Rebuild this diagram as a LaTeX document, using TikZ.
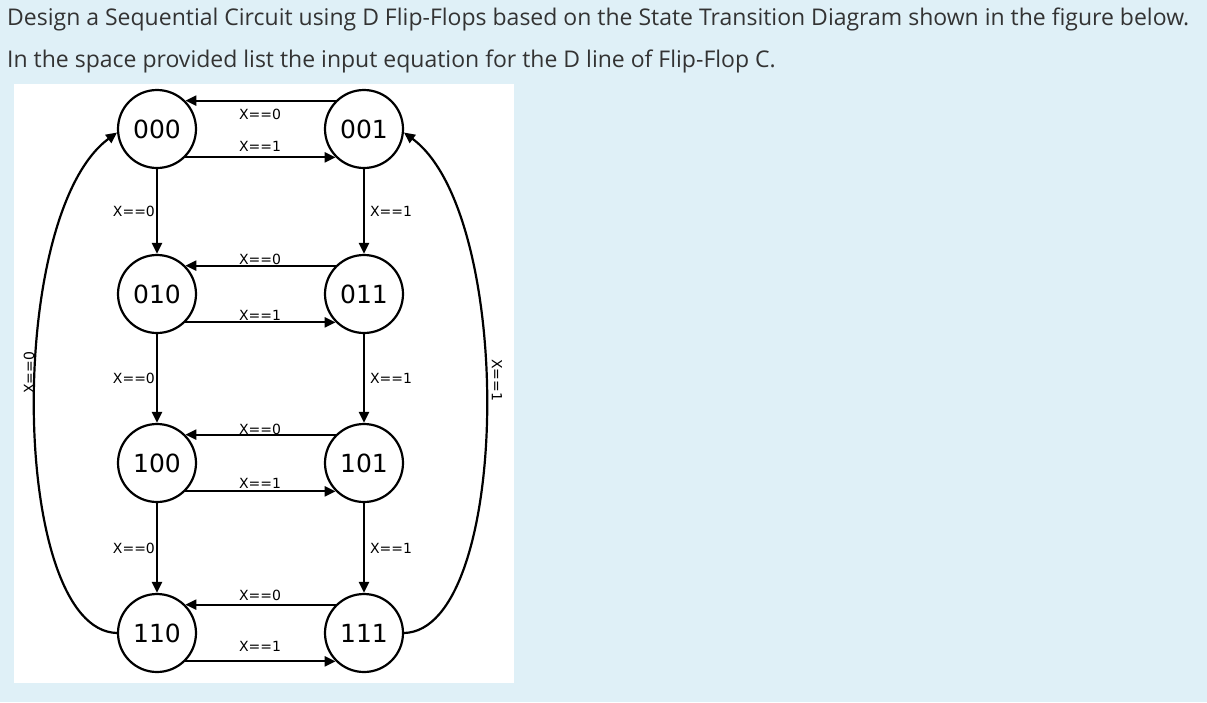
\documentclass[tikz,border=0pt]{standalone}
\usepackage{fontspec}
\setmainfont{Open Sans}
\newfontfamily\diag{DejaVu Sans}
\usetikzlibrary{arrows.meta}
\definecolor{bg}{HTML}{DFF0F7}
\definecolor{hdr}{HTML}{333333}
\begin{document}
\begin{tikzpicture}[x=1pt,y=-1pt,
  st/.style={circle,draw,line width=2.2pt,minimum size=78pt,inner sep=0pt,font=\diag\fontsize{25}{28}\selectfont},
  lab/.style={font=\diag\fontsize{14}{16}\selectfont,inner sep=1pt},
  tr/.style={line width=2.2pt,-{Triangle[length=11pt,width=10pt]}},
  hd/.style={anchor=west,text=hdr,font=\fontsize{23}{26}\selectfont,inner sep=0pt}]
\fill[bg] (0,0) rectangle (1207,702);
\useasboundingbox (0,0) rectangle (1207,702);
\fill[white] (14,84) rectangle (514,683);
\node[hd] (h1) at (7,19) {Design a Sequential Circuit using D Flip-Flops based on the State Transition Diagram shown in the figure below.};
\node[hd] (h2) at (7,61) {In the space provided list the input equation for the D line of Flip-Flop C.};
\node[st] (a) at (157,129) {000};
\node[st] (b) at (364,129) {001};
\node[st] (c) at (157,294) {010};
\node[st] (d) at (364,294) {011};
\node[st] (e) at (157,463) {100};
\node[st] (f) at (364,463) {101};
\node[st] (g) at (157,633) {110};
\node[st] (h) at (364,633) {111};
% horizontals
\foreach \l/\r in {a/b,c/d,e/f,g/h}{
  \draw[tr] (\r.135) -- (\l.45);
  \draw[tr] (\l.-45) -- (\r.-135);
}
\node[lab] (t1) at (260,114) {X==0};
\node[lab] (t2) at (260,146) {X==1};
\node[lab] (t3) at (260,259) {X==0};
\node[lab] (t4) at (260,315) {X==1};
\node[lab] (t5) at (260,429) {X==0};
\node[lab] (t6) at (260,483) {X==1};
\node[lab] (t7) at (260,595) {X==0};
\node[lab] (t8) at (260,646) {X==1};
% verticals
\draw[tr] (a) -- (c) node[midway,lab,anchor=east] {X==0};
\draw[tr] (c) -- (e) node[midway,lab,anchor=east] {X==0};
\draw[tr] (e) -- (g) node[midway,lab,anchor=east] {X==0};
\draw[tr] (b) -- (d) node[midway,lab,anchor=west,xshift=4pt] {X==1};
\draw[tr] (d) -- (f) node[midway,lab,anchor=west,xshift=4pt] {X==1};
\draw[tr] (f) -- (h) node[midway,lab,anchor=west,xshift=4pt] {X==1};
% wrap-around curves
\draw[tr] (g.west) .. controls (10,630) and (5,215) .. (a.185);
\draw[tr] (h.east) .. controls (511,630) and (516,215) .. (b.-5);
\node[lab,rotate=90] (l1) at (29,373) {X==0};
\node[lab,rotate=-90] (l2) at (497,380) {X==1};
\end{tikzpicture}
\end{document}
